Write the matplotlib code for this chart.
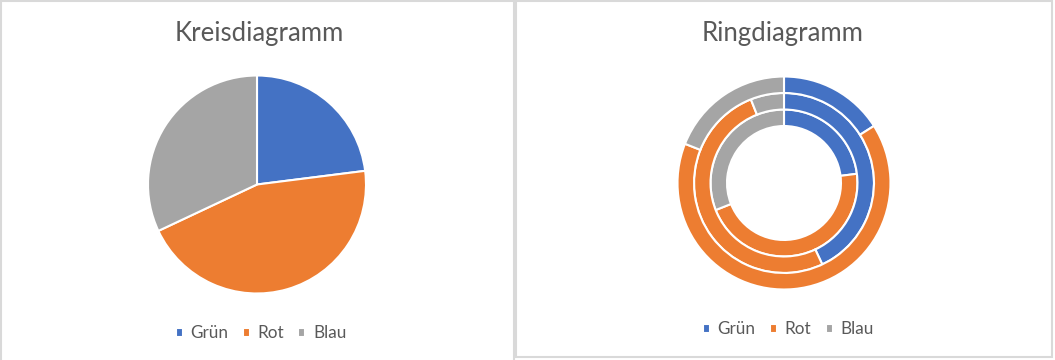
import matplotlib.pyplot as plt
from matplotlib.patches import Rectangle

W, H = 1055, 360

labels = ["Grün", "Rot", "Blau"]
colors = ["#4472C4", "#ED7D31", "#A5A5A5"]

pie_values = [23, 45, 32]

# rings from inside to outside (first series = inner ring, like Excel)
ring_inner = [23, 46, 31]
ring_middle = [43, 51, 6]
ring_outer = [16, 65, 19]
rings = [ring_inner, ring_middle, ring_outer]

TITLE_COLOR = "#595959"
BORDER = "#D9D9D9"
FONT = ["Lato", "DejaVu Sans"]


def px_axes(fig, cx, cy, r):
    return fig.add_axes([(cx - r) / W, 1 - (cy + r) / H, 2 * r / W, 2 * r / H])


def panel(fig, x0, y0, x1, y1):
    fig.add_artist(Rectangle((x0 / W, 1 - y1 / H), (x1 - x0) / W, (y1 - y0) / H,
                             transform=fig.transFigure, fill=False,
                             edgecolor=BORDER, linewidth=1.5))


def legend(fig, handles, cx, cy):
    fig.legend(handles, labels, loc="center", bbox_to_anchor=(cx / W, 1 - cy / H),
               ncol=3, frameon=False, handlelength=0.4, handleheight=0.4,
               handletextpad=0.45, columnspacing=0.85, borderaxespad=0,
               labelcolor=TITLE_COLOR, prop={"family": FONT, "size": 12.3})


fig = plt.figure(figsize=(W / 100, H / 100), dpi=100)

panel(fig, 0.8, 0.8, 513.5, 362)
panel(fig, 516, 0.8, 1052, 357)

# Kreisdiagramm
ax1 = px_axes(fig, 257, 184.5, 109)
wedges, _ = ax1.pie(pie_values, colors=colors, startangle=90, counterclock=False,
                    radius=1, wedgeprops={"edgecolor": "white", "linewidth": 1.5})
ax1.set_xlim(-1, 1)
ax1.set_ylim(-1, 1)
ax1.axis("off")
fig.text(259 / W, 1 - 41.5 / H, "Kreisdiagramm", ha="center", va="baseline",
         fontsize=18.5, color=TITLE_COLOR, family=FONT)
legend(fig, wedges, 261, 333.5)

# Ringdiagramm
ax2 = px_axes(fig, 784, 183, 106.5)
width = 0.155
ring_wedges = None
for i, vals in enumerate(rings):
    r = 1 - (2 - i) * width
    w, _ = ax2.pie(vals, colors=colors, startangle=90, counterclock=False,
                   radius=r, wedgeprops={"width": width, "edgecolor": "white",
                                         "linewidth": 1.5})
    if ring_wedges is None:
        ring_wedges = w
ax2.set_xlim(-1, 1)
ax2.set_ylim(-1, 1)
ax2.axis("off")
fig.text(783 / W, 1 - 41 / H, "Ringdiagramm", ha="center", va="baseline",
         fontsize=18.5, color=TITLE_COLOR, family=FONT)
legend(fig, ring_wedges, 788.5, 329.5)

fig.savefig("out.png", dpi=100)
